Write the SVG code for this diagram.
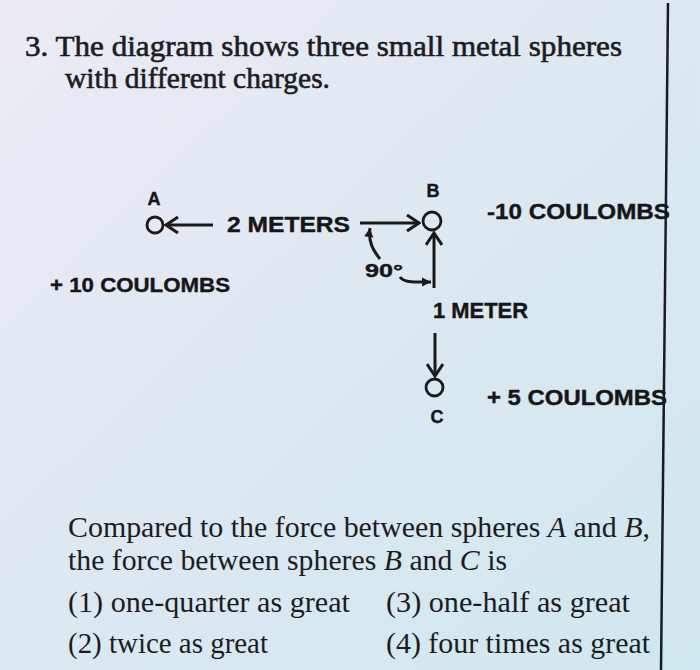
<svg xmlns="http://www.w3.org/2000/svg" width="700" height="670" viewBox="0 0 700 670">
<defs>
<linearGradient id="bg" x1="0" y1="0" x2="1" y2="1">
<stop offset="0" stop-color="#ebebf5"/>
<stop offset="0.5" stop-color="#dde8f1"/>
<stop offset="1" stop-color="#cfe7ee"/>
</linearGradient>
<marker id="chev" viewBox="-14 -9 16 18" markerWidth="16" markerHeight="18" refX="0" refY="0" orient="auto" markerUnits="userSpaceOnUse">
<path d="M-12,-8 L0,0 L-12,8" fill="none" stroke="#1a1a1a" stroke-width="3"/>
</marker>
<marker id="tri" viewBox="-10 -5 11 10" markerWidth="11" markerHeight="10" refX="0" refY="0" orient="auto" markerUnits="userSpaceOnUse">
<path d="M0,0 L-9,-4.5 L-9,4.5 Z" fill="#1a1a1a"/>
</marker>
</defs>
<style>
.serif{font-family:"Liberation Serif","Times New Roman",serif;fill:#1c1c22}
.title{font-size:30px;stroke:#1c1c22;stroke-width:0.6}
.body{font-size:29px}
.lab{font-family:"Liberation Sans",Arial,sans-serif;font-weight:bold;fill:#161616;stroke:#161616;stroke-width:0.4}
.ln{fill:none;stroke:#1a1a1a;stroke-width:3}
.sph{fill:none;stroke:#1a1a1a;stroke-width:2.8}
</style>
<rect x="0" y="0" width="700" height="670" fill="url(#bg)"/>
<line x1="668" y1="3" x2="661" y2="670" stroke="#1a1a2a" stroke-width="2.5"/>

<g id="question">
<text class="serif title" x="25" y="56" textLength="597" lengthAdjust="spacingAndGlyphs">3. The diagram  shows three small metal spheres</text>
<text class="serif title" x="65" y="88" textLength="265" lengthAdjust="spacingAndGlyphs">with different charges.</text>
</g>

<g id="sphereA">
<circle class="sph" cx="155" cy="225" r="8"/>
<text class="lab" x="154" y="205" font-size="18" text-anchor="middle">A</text>
<text class="lab" x="50" y="292" font-size="21" textLength="180" lengthAdjust="spacingAndGlyphs">+ 10 COULOMBS</text>
</g>

<g id="sphereB">
<circle class="sph" cx="432" cy="221" r="9"/>
<text class="lab" x="433" y="197" font-size="18" text-anchor="middle">B</text>
<text class="lab" x="487" y="219" font-size="22" textLength="183" lengthAdjust="spacingAndGlyphs">-10  COULOMBS</text>
</g>

<g id="sphereC">
<circle class="sph" cx="434.5" cy="387.5" r="8.5"/>
<text class="lab" x="437" y="423" font-size="18" text-anchor="middle">C</text>
<text class="lab" x="487" y="405" font-size="22" textLength="180" lengthAdjust="spacingAndGlyphs">+ 5  COULOMBS</text>
</g>

<g id="labels">
<text class="lab" x="227" y="232" font-size="22" textLength="123" lengthAdjust="spacingAndGlyphs">2 METERS</text>
<text class="lab" x="433" y="318" font-size="22" textLength="95" lengthAdjust="spacingAndGlyphs">1 METER</text>
<text class="lab" x="365" y="277" font-size="18" textLength="38" lengthAdjust="spacingAndGlyphs">90°</text>
</g>

<g id="connectors">
<line class="ln" x1="213" y1="225" x2="166" y2="225" marker-end="url(#chev)"/>
<line class="ln" x1="360" y1="223" x2="419" y2="223" marker-end="url(#chev)"/>
<line class="ln" x1="434" y1="288" x2="434" y2="233" marker-end="url(#chev)"/>
<line class="ln" x1="435" y1="333" x2="435" y2="376" marker-end="url(#chev)"/>
<path class="ln" d="M380,259 C373,250 368,242 370,228" stroke-width="2.5" marker-end="url(#tri)"/>
<path class="ln" d="M400,277 C404,283 415,282 431,282" stroke-width="2.5" marker-end="url(#tri)"/>
</g>

<g id="answers">
<text class="serif body" x="68" y="537" textLength="582" lengthAdjust="spacingAndGlyphs">Compared to the force between spheres <tspan font-style="italic">A</tspan> and <tspan font-style="italic">B</tspan>,</text>
<text class="serif body" x="68" y="570" textLength="439" lengthAdjust="spacingAndGlyphs">the force between spheres <tspan font-style="italic">B</tspan> and <tspan font-style="italic">C</tspan> is</text>
<text class="serif body" x="68" y="612" textLength="282" lengthAdjust="spacingAndGlyphs">(1) one-quarter as great</text>
<text class="serif body" x="386" y="612" textLength="244" lengthAdjust="spacingAndGlyphs">(3) one-half as great</text>
<text class="serif body" x="68" y="653" textLength="200" lengthAdjust="spacingAndGlyphs">(2) twice as great</text>
<text class="serif body" x="386" y="653" textLength="264" lengthAdjust="spacingAndGlyphs">(4) four times as great</text>
</g>
</svg>
